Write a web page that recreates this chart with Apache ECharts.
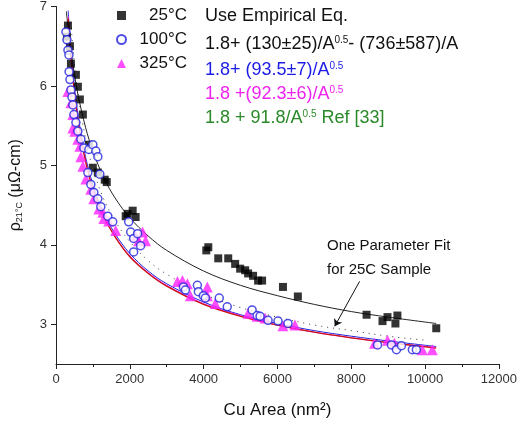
<!DOCTYPE html>
<html>
<head>
<meta charset="utf-8">
<script src="https://cdn.jsdelivr.net/npm/echarts@6/dist/echarts.min.js"></script>
<style>
  html, body { margin: 0; padding: 0; background: #fff; }
  #chart { width: 520px; height: 424px; }
</style>
</head>
<body>
<div id="chart"></div>
<script>
// measured points (Cu area in nm^2, resistivity in uOhm-cm)
const seriesNames = ['25°C', '100°C', '325°C'];

const area25 = [324, 297, 378, 405, 539, 593, 647, 728, 890, 998, 1133, 1321, 1375,
  1888, 1942, 2077, 2157, 4072, 4126, 4396, 4666, 4854, 4989, 5124, 5205, 5340, 5475,
  5583, 6149, 6553, 8414, 8846, 8981, 9250, 9196, 10302];
const rho25 = [6.76, 6.62, 6.50, 6.28, 6.14, 5.99, 5.83, 5.64, 5.26, 4.97, 4.91, 4.82, 4.79,
  4.36, 4.39, 4.43, 4.35, 3.93, 3.97, 3.83, 3.83, 3.76, 3.70, 3.68, 3.64, 3.61, 3.55,
  3.55, 3.47, 3.35, 3.12, 3.04, 3.09, 3.11, 3.01, 2.95];

const area100 = [270, 297, 324, 351, 355, 378, 405, 432, 458, 485, 539, 593, 674, 755, 890,
  998, 1079, 1133, 1187, 863, 944, 1025, 1133, 1214, 1402, 1537, 1969, 2023, 2104, 2211,
  2292, 2104, 3452, 3506, 3830, 3857, 3992, 4046, 4423, 4639, 5313, 5448, 5529, 5745,
  6014, 6284, 8711, 9089, 9224, 9359, 9655, 9763];
const rho100 = [6.68, 6.58, 6.45, 6.39, 6.18, 6.08, 5.95, 5.86, 5.76, 5.64, 5.54, 5.43, 5.33,
  5.22, 5.20, 5.26, 5.18, 5.11, 4.89, 4.91, 4.76, 4.66, 4.58, 4.48, 4.36, 4.29, 4.29, 4.16,
  4.08, 4.14, 3.99, 3.91, 3.47, 3.43, 3.49, 3.41, 3.36, 3.33, 3.33, 3.22, 3.18, 3.11, 3.10,
  3.05, 3.04, 3.01, 2.74, 2.74, 2.68, 2.73, 2.68, 2.68];

const area325 = [324, 405, 458, 458, 512, 593, 647, 674, 728, 809, 944, 1025, 1160, 1268,
  1295, 1429, 1618, 2158, 2238, 2346, 2427, 3290, 3425, 3560, 3641, 4099, 4099, 4315,
  5205, 5448, 5664, 6149, 6473, 8630, 8981, 9170, 9925, 10195];
const rho325 = [5.93, 5.79, 5.64, 5.47, 5.43, 5.33, 5.24, 5.11, 4.99, 4.83, 4.70, 4.58, 4.45,
  4.41, 4.33, 4.30, 4.18, 4.11, 4.05, 4.16, 4.05, 3.54, 3.55, 3.51, 3.36, 3.47, 3.36, 3.26,
  3.14, 3.10, 3.08, 2.98, 2.99, 2.76, 2.80, 2.76, 2.68, 2.68];

// fit curves
const fitArea25 = [280, 300, 350, 400, 500, 600, 800, 1000, 1300, 1600, 2000, 2500, 3000,
  4000, 5000, 6000, 7000, 8000, 9000, 10300];
const fit25 = [6.94, 6.85, 6.65, 6.46, 6.14, 5.88, 5.48, 5.18, 4.84, 4.59, 4.34, 4.11, 3.93,
  3.67, 3.49, 3.36, 3.25, 3.16, 3.09, 3.01];

const fitArea = [330, 400, 500, 600, 800, 1000, 1300, 1600, 2000, 2500, 3000, 4000, 5000,
  6000, 7000, 8000, 9000, 10300];
const fit100 = [6.95, 6.48, 5.98, 5.62, 5.11, 4.76, 4.39, 4.14, 3.89, 3.67, 3.51, 3.28, 3.12,
  3.01, 2.92, 2.85, 2.79, 2.72];
const fit325 = [6.88, 6.42, 5.93, 5.57, 5.06, 4.72, 4.36, 4.11, 3.86, 3.65, 3.49, 3.26, 3.11,
  2.99, 2.90, 2.83, 2.77, 2.71];
const fitRef = [6.85, 6.39, 5.91, 5.55, 5.05, 4.70, 4.35, 4.10, 3.85, 3.64, 3.48, 3.25, 3.10,
  2.99, 2.90, 2.83, 2.77, 2.70];

const oneParArea = [400, 500, 600, 800, 1000, 1300, 1600, 2000, 2500, 3000, 4000, 5000, 6000,
  7000, 8000, 9000, 10000];
const oneParFit = [6.80, 6.27, 5.88, 5.34, 4.96, 4.57, 4.30, 4.04, 3.80, 3.63, 3.38, 3.21,
  3.09, 2.99, 2.92, 2.85, 2.80];

const yTicks = [3, 4, 5, 6, 7];

const zip = (xs, ys) => xs.map((x, i) => [x, ys[i]]);

const font = 'Arial, "Liberation Sans", sans-serif';
const chart = echarts.init(document.getElementById('chart'));

function fitLine(data, color, width, extra) {
  return Object.assign({
    type: 'line',
    data: data,
    smooth: 0.35,
    symbol: 'none',
    silent: true,
    lineStyle: { color: color, width: width },
    z: 3
  }, extra || {});
}

// equation text with a small superscript, coloured
function eq(text, color, top) {
  return {
    type: 'text', left: 205, top: top,
    style: {
      text: text,
      rich: {
        n: { fontSize: 18, fontFamily: font, fill: color },
        s: { fontSize: 10, fontFamily: font, fill: color, verticalAlign: 'top' }
      }
    }
  };
}

chart.setOption({
  animation: false,
  textStyle: { fontFamily: font },
  grid: { left: 55, right: 20, top: 6, bottom: 58 },
  legend: {
    orient: 'vertical',
    left: 111,
    top: 2,
    itemGap: 7,
    itemWidth: 9,
    itemHeight: 9,
    data: seriesNames,
    formatter: name => '{r|' + name + '}',
    textStyle: {
      rich: { r: { width: 56, align: 'right', fontSize: 17, color: '#111', fontFamily: font, lineHeight: 17 } }
    }
  },
  xAxis: {
    type: 'value',
    min: 0,
    max: 12000,
    interval: 2000,
    name: 'Cu Area (nm²)',
    nameLocation: 'middle',
    nameGap: 38,
    nameTextStyle: { fontSize: 17, color: '#111', fontFamily: font },
    axisLine: { lineStyle: { color: '#222', width: 1 } },
    axisTick: { length: 5, lineStyle: { color: '#222' } },
    minorTick: { show: true, splitNumber: 2, length: 3, lineStyle: { color: '#222' } },
    axisLabel: { fontSize: 13, color: '#333', margin: 9, fontFamily: font, formatter: v => String(v) },
    splitLine: { show: false }
  },
  yAxis: {
    type: 'value',
    min: 2.5,
    max: 7,
    name: '{a|ρ}{s|21°C}{a| (μΩ-cm)}',
    nameLocation: 'middle',
    nameGap: 32,
    nameTextStyle: {
      color: '#111',
      rich: {
        a: { fontSize: 16, fontFamily: font, color: '#111' },
        s: { fontSize: 9, verticalAlign: 'bottom', fontFamily: font, color: '#111' }
      }
    },
    axisLine: { show: true, lineStyle: { color: '#222', width: 1 } },
    axisTick: { show: true, length: 5, customValues: yTicks, lineStyle: { color: '#222' } },
    axisLabel: { fontSize: 13, color: '#333', margin: 9, customValues: yTicks, fontFamily: font },
    splitLine: { show: false }
  },
  graphic: [
    { type: 'text', left: 205, top: 7, style: { text: 'Use Empirical Eq.', font: '18px ' + font, fill: '#111' } },
    eq('{n|1.8+ (130±25)/A}{s|0.5}{n|- (736±587)/A}', '#111', 35),
    eq('{n|1.8+ (93.5±7)/A}{s|0.5}', '#1c1ce6', 61),
    eq('{n|1.8 +(92.3±6)/A}{s|0.5}', '#ee22ee', 85),
    eq('{n|1.8 + 91.8/A}{s|0.5}{n| Ref [33]}', '#2a8a2a', 109),
    { type: 'text', left: 327, top: 234, style: {
      text: 'One Parameter Fit\nfor 25C Sample', font: '15px ' + font, fill: '#111', lineHeight: 24
    } }
  ],
  series: [
    fitLine(zip(fitArea25, fit25), '#222', 1),
    fitLine(zip(fitArea, fit100), '#2222dd', 1),
    fitLine(zip(fitArea, fit325), '#ee22ee', 1),
    fitLine(zip(fitArea, fitRef), '#cc1111', 1.3),
    fitLine(zip(oneParArea, oneParFit), '#333', 1, {
      lineStyle: { color: '#333', width: 1, type: [1, 5] },
      markLine: {
        silent: true,
        symbol: ['none', 'arrow'],
        symbolSize: 7,
        label: { show: false },
        lineStyle: { color: '#111', width: 1, type: 'solid' },
        data: [[{ coord: [8225, 3.54] }, { coord: [7552, 2.975] }]]
      }
    }),
    {
      name: seriesNames[0],
      type: 'scatter',
      data: zip(area25, rho25),
      symbol: 'rect',
      symbolSize: 8,
      itemStyle: { color: '#000' },
      z: 4
    },
    {
      name: seriesNames[2],
      type: 'scatter',
      data: zip(area325, rho325),
      symbol: 'triangle',
      symbolSize: 11,
      itemStyle: { color: '#ff22ff' },
      z: 5
    },
    {
      name: seriesNames[1],
      type: 'scatter',
      data: zip(area100, rho100),
      symbol: 'circle',
      symbolSize: 8,
      itemStyle: { color: '#fff', borderColor: '#2222dd', borderWidth: 1.5 },
      z: 6
    }
  ]
});
</script>
</body>
</html>
